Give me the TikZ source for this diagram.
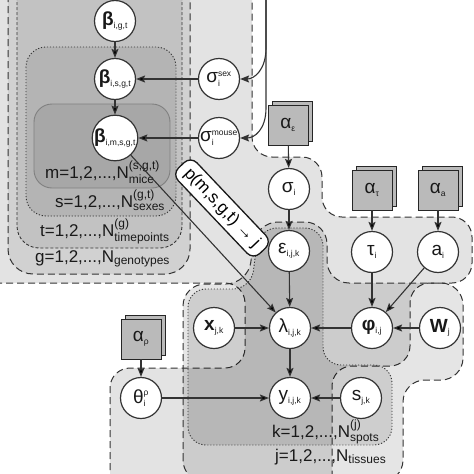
\documentclass[tikz,border=0pt]{standalone}
\usepackage{amsmath}
\usepackage{fontspec}
\setmainfont{Liberation Sans}
\usetikzlibrary{arrows.meta,shadows}

\DeclareMathSizes{19}{19}{8.5}{6}
\DeclareMathSizes{17}{17}{12}{9}
\newcommand{\lo}[2]{#1$_{\text{#2}}$}
\newcommand{\lohi}[3]{#1$^{\text{#3}}_{\text{#2}}$}

\begin{document}
\begin{tikzpicture}[x=1pt,y=-1pt,
        >={Stealth[length=9pt,width=7pt,inset=1.5pt]},
        var/.style={circle,draw=black!80,fill=white,line width=1.2pt,minimum size=41pt,inner sep=0pt,text=black!90,font=\fontsize{19}{22}\selectfont},
        hyper/.style={rectangle,draw=black!85,fill=black!27,line width=0.9pt,minimum size=40pt,inner sep=0pt,text=black!90,font=\fontsize{19}{22}\selectfont,copy shadow={shadow xshift=4pt,shadow yshift=4pt}},
        link/.style={draw=black!80,line width=1.1pt,->},
        longdash/.style={draw=black!80,line width=1pt,dash pattern=on 7pt off 4pt},
        shortdash/.style={draw=black!80,line width=0.9pt,dash pattern=on 3pt off 2pt},
        dotline/.style={draw=black!80,line width=0.9pt,dash pattern=on 1.2pt off 1.8pt},
        platefill/.style={fill=black,fill opacity=#1},
        platelabel/.style={anchor=base west,inner sep=0pt,text=black!90,font=\fontsize{17}{20}\selectfont},
        ]

\useasboundingbox (0,0) rectangle (474,474);
\clip (0,0) rectangle (474,474);

% plates
\draw[rounded corners=20pt,longdash,platefill=0.11] (-30,-30) -- (252,-30) -- (252,157) -- (322,157) -- (322,217) -- (472,217) -- (472,283) -- (410,283) -- (410,366) -- (332,366) -- (332,500) -- (110,500) -- (110,368) -- (245,368) -- (245,283) -- (-30,283) -- cycle;
\draw[rounded corners=22pt,longdash,platefill=0.1] (183,482) -- (183,284) -- (248,284) -- (256,222) -- (327,222) -- (327,283) -- (463,283) -- (463,380) -- (403,380) -- (403,482) -- cycle;
\draw[rounded corners=18pt,dotline,platefill=0.1] (188,445) -- (188,289) -- (251,289) -- (259,228) -- (323,228) -- (323,365) -- (392,365) -- (392,445) -- cycle;
\draw[rounded corners=25pt,longdash,platefill=0.08] (8,-30) rectangle (190,274);
\draw[rounded corners=22pt,shortdash,platefill=0.07] (17,-30) rectangle (182,248);
\draw[rounded corners=20pt,dotline,platefill=0.07] (26,47) rectangle (176,216);
\draw[rounded corners=18pt,draw=black!50,line width=0.9pt,platefill=0.07] (34,104) rectangle (170,188);

\node[platelabel] (mlab) at (45,178) {m=1,2,...,N\lohi{}{mice}{(s,g,t)}};
\node[platelabel] (slab) at (55,207) {s=1,2,...,N\lohi{}{sexes}{(g,t)}};
\node[platelabel] (tlab) at (40,236) {t=1,2,...,N\lohi{}{timepoints}{(g)}};
\node[platelabel] (glab) at (35,262) {g=1,2,...,N\lo{}{genotypes}};
\node[platelabel] (klab) at (272,437) {k=1,2,...,N\lohi{}{spots}{(j)}};
\node[platelabel] (jlab) at (275,461) {j=1,2,...,N\lo{}{tissues}};

\node[var] (bgt) at (115,21) {\lo{\textbf{β}}{i,g,t}};
\node[var] (bsgt) at (115,79) {\lo{\textbf{β}}{i,s,g,t}};
\node[var] (bmsgt) at (115,138) {\lo{\textbf{β}}{i,m,s,g,t}};
\node[var] (sigsex) at (219,79) {\lohi{σ}{i}{sex}};
\node[var] (sigmouse) at (219,138) {\lohi{σ}{i}{mouse}};
\node[hyper] (aeps) at (288,125) {\lo{α}{ε}};
\node[var] (sig) at (289,189) {\lo{σ}{i}};
\node[var] (eps) at (289,251) {\lo{ε}{i,j,k}};
\node[hyper] (atau) at (372,190) {\lo{α}{τ}};
\node[hyper] (aa) at (438,190) {\lo{α}{a}};
\node[var] (tau) at (372,252) {\lo{τ}{i}};
\node[var] (a) at (438,252) {\lo{a}{i}};
\node[var] (x) at (214,328) {\lo{\textbf{x}}{j,k}};
\node[var] (lam) at (290,328) {\lo{λ}{i,j,k}};
\node[var] (phi) at (372,328) {\lo{\textbf{φ}}{i,j}};
\node[var] (w) at (440,328) {\lo{\textbf{W}}{j}};
\node[hyper] (arho) at (141,339) {\lo{α}{ρ}};
\node[var] (theta) at (141,398) {\lohi{θ}{i}{ρ}};
\node[var] (y) at (290,398) {\lo{y}{i,j,k}};
\node[var] (s) at (361,398) {\lo{s}{j,k}};

\coordinate (top) at (266,-5);
\coordinate (bend1) at (266,48);
\coordinate (bend2) at (266,108);

    \draw[link] (top) -- (bend1) .. controls +(0,22) and +(14,0) .. (sigsex.east);
    \draw[link] (top) -- (bend2) .. controls +(0,22) and +(14,0) .. (sigmouse.east);

    \path[link] (bgt) edge(bsgt);
    \path[link] (bsgt) edge(bmsgt);
    \path[link] (sigsex) edge(bsgt);
    \path[link] (sigmouse) edge(bmsgt);
    \path[link] (bmsgt) edge(lam);

     \path[link] (aeps) edge(sig);
     \path[link] (sig) edge(eps);
     \path[link] (eps) edge(lam);

      \path[link] (atau) edge(tau);
      \path[link] (aa) edge(a);
      \path[link] (tau) edge(phi);
      \path[link] (a) edge(phi);
      \path[link] (w) edge(phi);
      \path[link] (phi) edge(lam);
      \path[link] (x) edge(lam);

       \path[link] (lam) edge(y);
       \path[link] (arho) edge(theta);
       \path[link] (theta) edge(y);
       \path[link] (s) edge(y);

\node[draw=black!90,line width=1.3pt,fill=white,rounded corners=9pt,rotate=-46.5,inner xsep=8pt,inner ysep=5pt,font=\fontsize{17}{20}\selectfont] (remap) at (222,208) {p(m,s,g,t) → j};

\end{tikzpicture}
\end{document}
